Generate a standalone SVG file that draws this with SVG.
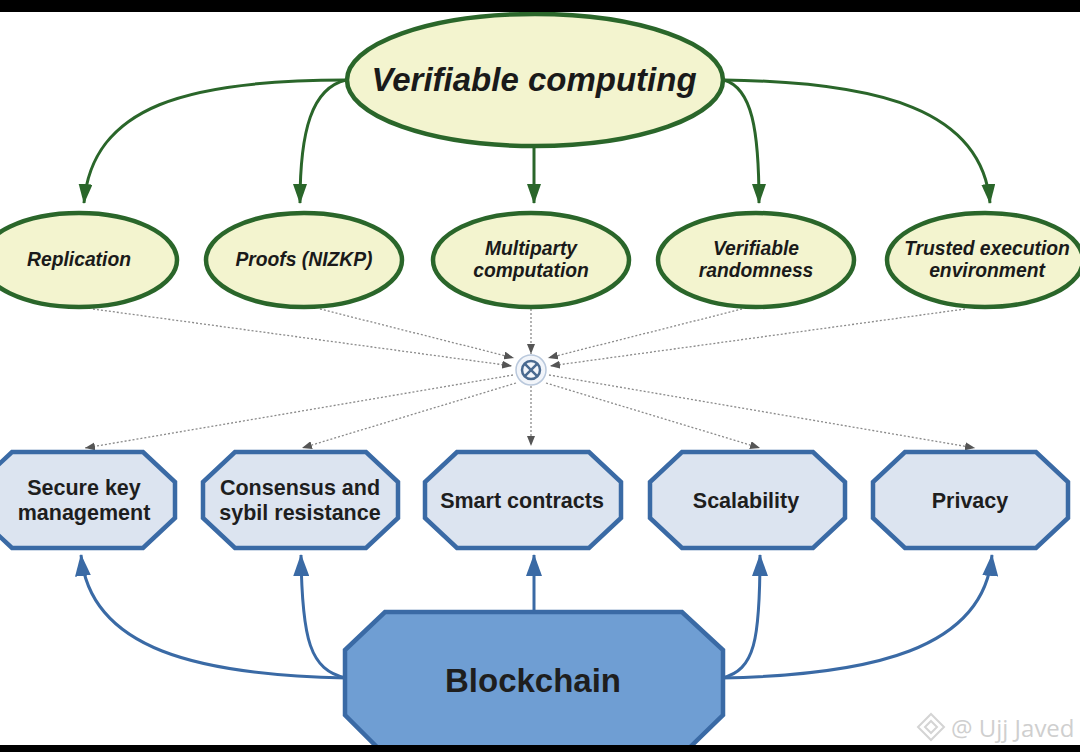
<svg xmlns="http://www.w3.org/2000/svg" width="1080" height="752" viewBox="0 0 1080 752">
<style>
.ell{fill:#f3f4cf;stroke:#2a662a;stroke-width:4.5}
.gline{fill:none;stroke:#2a662a;stroke-width:3}
.bline{fill:none;stroke:#3a6aa5;stroke-width:3}
.dline{fill:none;stroke:#8a8a8a;stroke-width:1.3;stroke-dasharray:2 2}
.oct{fill:#dce4f0;stroke:#3a6aa5;stroke-width:4.5;stroke-linejoin:miter}
.it{font-family:"Liberation Sans",Arial,sans-serif;font-weight:bold;font-style:italic;fill:#1a1a1a;text-anchor:middle}
.bt{font-family:"Liberation Sans",Arial,sans-serif;font-weight:bold;fill:#1e1e1e;text-anchor:middle}
</style>
<defs>
<marker id="ga" markerUnits="userSpaceOnUse" markerWidth="20" markerHeight="14" refX="19" refY="7" orient="auto" viewBox="0 0 20 14">
<path d="M0,0 L20,7 L0,14 z" fill="#2a662a"/>
</marker>
<marker id="ba" markerUnits="userSpaceOnUse" markerWidth="22" markerHeight="16" refX="21" refY="8" orient="auto" viewBox="0 0 22 16">
<path d="M0,0 L22,8 L0,16 z" fill="#3a6aa5"/>
</marker>
<marker id="da" markerUnits="userSpaceOnUse" markerWidth="10" markerHeight="8" refX="10" refY="4" orient="auto" viewBox="0 0 10 8">
<path d="M0,0 L10,4 L0,8 z" fill="#555"/>
</marker>
</defs>
<rect x="0" y="0" width="1080" height="752" fill="#ffffff"/>

<g id="connectors">
<path class="gline" marker-end="url(#ga)" d="M346,80 C 190,80 92,105 84,203"/>
<path class="gline" marker-end="url(#ga)" d="M346,80 C 312,88 300,130 300,203"/>
<path class="gline" marker-end="url(#ga)" d="M534,146 L534,203"/>
<path class="gline" marker-end="url(#ga)" d="M724,80 C 752,88 759,130 759,203"/>
<path class="gline" marker-end="url(#ga)" d="M724,80 C 880,82 982,110 990,203"/>

<path class="dline" marker-end="url(#da)" d="M93,309 L512,366"/>
<path class="dline" marker-end="url(#da)" d="M320,309 L514,358"/>
<path class="dline" marker-end="url(#da)" d="M531,309 L531,354"/>
<path class="dline" marker-end="url(#da)" d="M742,309 L548,358"/>
<path class="dline" marker-end="url(#da)" d="M965,309 L550,366"/>
<path class="dline" marker-end="url(#da)" d="M513,375 L85,448"/>
<path class="dline" marker-end="url(#da)" d="M516,383 L302,448"/>
<path class="dline" marker-end="url(#da)" d="M531,386 L531,446"/>
<path class="dline" marker-end="url(#da)" d="M546,383 L760,448"/>
<path class="dline" marker-end="url(#da)" d="M549,375 L975,448"/>

<path class="bline" marker-end="url(#ba)" d="M346,678 C 200,675 90,650 81,555"/>
<path class="bline" marker-end="url(#ba)" d="M346,678 C 310,670 302,640 301,555"/>
<path class="bline" marker-end="url(#ba)" d="M534,612 L534,555"/>
<path class="bline" marker-end="url(#ba)" d="M722,678 C 755,670 760,640 760,555"/>
<path class="bline" marker-end="url(#ba)" d="M722,678 C 870,675 984,650 992,555"/>
</g>

<g id="verifiable-computing">
<ellipse class="ell" cx="535" cy="80" rx="188" ry="66"/>
<text class="it" x="534" y="91" font-size="33">Verifiable computing</text>
</g>

<g id="replication">
<ellipse class="ell" cx="79" cy="260" rx="98" ry="47"/>
<text class="it" x="79" y="266" font-size="19.3">Replication</text>
</g>
<g id="proofs">
<ellipse class="ell" cx="304" cy="260" rx="98" ry="47"/>
<text class="it" x="304" y="266" font-size="19.3">Proofs (NIZKP)</text>
</g>
<g id="multiparty">
<ellipse class="ell" cx="531" cy="260" rx="98" ry="47"/>
<text class="it" x="531" y="255" font-size="19.3">Multiparty</text>
<text class="it" x="531" y="277" font-size="19.3">computation</text>
</g>
<g id="verifiable-randomness">
<ellipse class="ell" cx="756" cy="260" rx="98" ry="47"/>
<text class="it" x="756" y="255" font-size="19.3">Verifiable</text>
<text class="it" x="756" y="277" font-size="19.3">randomness</text>
</g>
<g id="trusted-execution">
<ellipse class="ell" cx="985" cy="260" rx="98" ry="47"/>
<text class="it" x="987" y="255" font-size="19.3">Trusted execution</text>
<text class="it" x="987" y="277" font-size="19.3">environment</text>
</g>

<g id="combiner">
<circle cx="531" cy="370" r="15" fill="#f2f5fa" stroke="#b9c8dc" stroke-width="1.5"/>
<circle cx="531" cy="370" r="9" fill="none" stroke="#4a6a90" stroke-width="2.5"/>
<path d="M524.6,363.6 L537.4,376.4 M537.4,363.6 L524.6,376.4" stroke="#4a6a90" stroke-width="2.5"/>
</g>

<g id="secure-key">
<polygon class="oct" points="12,452 143,452 175,482 175,518 143,548 12,548 -20,518 -20,482"/>
<text class="bt" x="84" y="495" font-size="21.5">Secure key</text>
<text class="bt" x="84" y="520" font-size="21.5">management</text>
</g>
<g id="consensus">
<polygon class="oct" points="235,452 366,452 398,482 398,518 366,548 235,548 203,518 203,482"/>
<text class="bt" x="300" y="495" font-size="21.5">Consensus and</text>
<text class="bt" x="300" y="520" font-size="21.5">sybil resistance</text>
</g>
<g id="smart-contracts">
<polygon class="oct" points="457,452 589,452 621,482 621,518 589,548 457,548 425,518 425,482"/>
<text class="bt" x="522" y="508" font-size="21.5">Smart contracts</text>
</g>
<g id="scalability">
<polygon class="oct" points="682,452 813,452 845,482 845,518 813,548 682,548 650,518 650,482"/>
<text class="bt" x="746" y="508" font-size="21.5">Scalability</text>
</g>
<g id="privacy">
<polygon class="oct" points="905,452 1036,452 1068,482 1068,518 1036,548 905,548 873,518 873,482"/>
<text class="bt" x="970" y="508" font-size="21.5">Privacy</text>
</g>

<g id="blockchain">
<polygon class="oct" style="fill:#6f9ed3" points="385,612 682,612 723,650 723,715 685,752 382,752 345,715 345,650"/>
<text class="bt" x="533" y="692" font-size="33" fill="#111">Blockchain</text>
</g>

<g id="watermark">
<g fill="none" stroke="#d4d4d4" stroke-width="2">
<path d="M931,714 L944,727 L931,740 L918,727 z"/>
<path d="M931,721 L937,727 L931,733 L925,727 z"/>
</g>
<text x="951" y="737" font-family="'Open Sans','DejaVu Sans',sans-serif" font-size="24" fill="#cfcfcf">@ Ujj Javed</text>
</g>

<rect x="0" y="0" width="1080" height="12" fill="#000"/>
<rect x="0" y="745" width="1080" height="7" fill="#000"/>
</svg>
